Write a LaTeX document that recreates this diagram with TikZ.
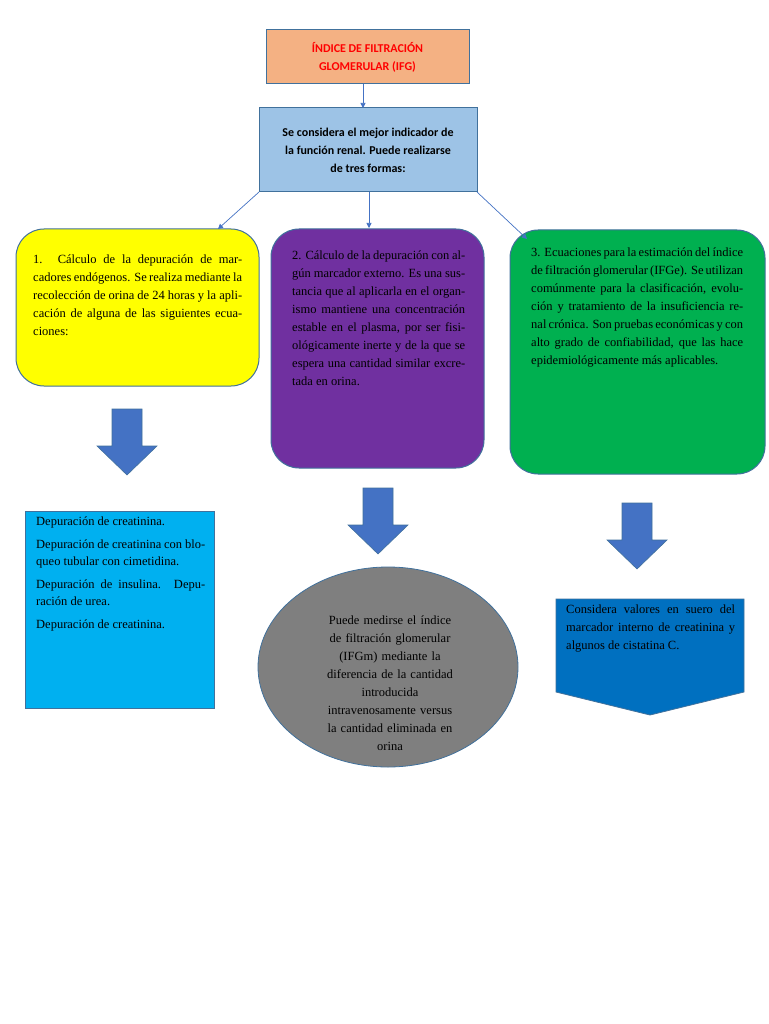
\documentclass[tikz,border=0pt]{standalone}
\usepackage{fontspec}
\setmainfont{Liberation Serif}
\newfontfamily\calib{Carlito}
\usetikzlibrary{shapes.geometric,shapes.arrows,arrows.meta}
\definecolor{salmon}{HTML}{F4B183}
\definecolor{lblue}{HTML}{9DC3E6}
\definecolor{bord}{HTML}{41719C}
\definecolor{ylw}{HTML}{FFFF00}
\definecolor{purp}{HTML}{7030A0}
\definecolor{grn}{HTML}{00B050}
\definecolor{cyn}{HTML}{00B0F0}
\definecolor{gry}{HTML}{7F7F7F}
\definecolor{dblue}{HTML}{0070C0}
\definecolor{arr}{HTML}{4472C4}
\tikzset{
  conn/.style={draw=arr,-{Triangle[length=5pt,width=5pt]},line width=0.7pt},
  rbox/.style={draw=bord,line width=1pt,rounded corners=28pt},
  txt/.style={font=\fontsize{12.5}{18}\selectfont,align=justify,inner sep=0pt,anchor=north west},
  bigarrow/.style={fill=arr,draw=bord,line width=0.6pt},
}
\begin{document}
\begin{tikzpicture}[x=1pt,y=-1pt]
\useasboundingbox (0,0) rectangle (768,1024);
\fill[white] (0,0) rectangle (768,1024);
% title
\draw[fill=salmon,draw=bord,line width=1pt] (266,30) rectangle (469,84);
\node (t) at (367.5,57) {};
\node[font=\calib\bfseries\fontsize{12}{18}\selectfont,text=red,align=center] (tt) at (367.5,57) {ÍNDICE DE FILTRACIÓN\\GLOMERULAR (IFG)};
\coordinate (tb) at (363,84);
% box 2
\draw[fill=lblue,draw=bord,line width=1pt] (259,108) rectangle (477,192);
\coordinate (bt) at (363,108);
\node[font=\calib\bfseries\fontsize{12}{18}\selectfont,align=center] (b) at (368,150) {Se considera el mejor indicador de\\la función renal. Puede realizarse\\de tres formas:};
\coordinate (bl) at (259,192);
\coordinate (bm) at (369,192);
\coordinate (br) at (477,192);
\draw[conn] (tb) -- (bt);
% three boxes
\draw[rbox,fill=ylw] (16,229) rectangle (259,386);
\draw[rbox,fill=purp] (271,229) rectangle (484,468);
\draw[rbox,fill=grn] (510,230) rectangle (765,474);
\coordinate (y) at (218,229);
\coordinate (p) at (369,228);
\coordinate (g) at (527,239);
\draw[conn] (bl) -- (y);
\draw[conn] (bm) -- (p);
\draw[conn] (br) -- (g);
\node[txt,text width=209pt] (yt) at (33,255) {1. Cálculo de la depuración de marcadores endógenos. Se realiza mediante la recolección de orina de 24 horas y la aplicación de alguna de las siguientes ecuaciones:};
\node[txt,text width=173pt] (pt) at (292,251) {2. Cálculo de la depuración con algún marcador externo. Es una sustancia que al aplicarla en el organismo mantiene una concentración estable en el plasma, por ser fisiológicamente inerte y de la que se espera una cantidad similar excretada en orina.};
\node[txt,text width=212pt] (gt) at (531,248) {3. Ecuaciones para la estimación del índice de filtración glomerular (IFGe). Se utilizan comúnmente para la clasificación, evolución y tratamiento de la insuficiencia renal crónica. Son pruebas económicas y con alto grado de confiabilidad, que las hace epidemiológicamente más aplicables.};
% block arrows
\foreach \x/\y in {97/409,348/488,607/503}{
  \draw[bigarrow] (\x+15,\y) -- (\x+45,\y) -- (\x+45,\y+37) -- (\x+60,\y+37) -- (\x+30,\y+66) -- (\x,\y+37) -- (\x+15,\y+37) -- cycle;
}
% cyan box
\draw[fill=cyn,draw=bord,line width=0.8pt] (25,511) rectangle (214,708);
\node[txt,text width=169pt,font=\fontsize{12.5}{17}\selectfont] (ct) at (36,517) {Depuración de creatinina.\\[6pt]
Depuración de creatinina con bloqueo tubular con cimetidina.\\[6pt]
Depuración de insulina. Depuración de urea.\\[6pt]
Depuración de creatinina.};
% ellipse
\draw[fill=gry,draw=bord,line width=0.8pt] (388,667) ellipse [x radius=130,y radius=100];
\node[font=\fontsize{12.5}{18}\selectfont,align=center,text width=160pt] (et) at (390,683) {Puede medirse el índice\\de filtración glomerular\\(IFGm) mediante la\\diferencia de la cantidad\\introducida\\intravenosamente versus\\la cantidad eliminada en\\orina};
% pentagon
\draw[fill=dblue,draw=bord,line width=0.8pt] (556,599) -- (744,599) -- (744,692) -- (650,715) -- (556,692) -- cycle;
\node[txt,text width=169pt] (pt2) at (566,605) {Considera valores en suero del marcador interno de creatinina y algunos de cistatina C.};
\end{tikzpicture}
\end{document}
